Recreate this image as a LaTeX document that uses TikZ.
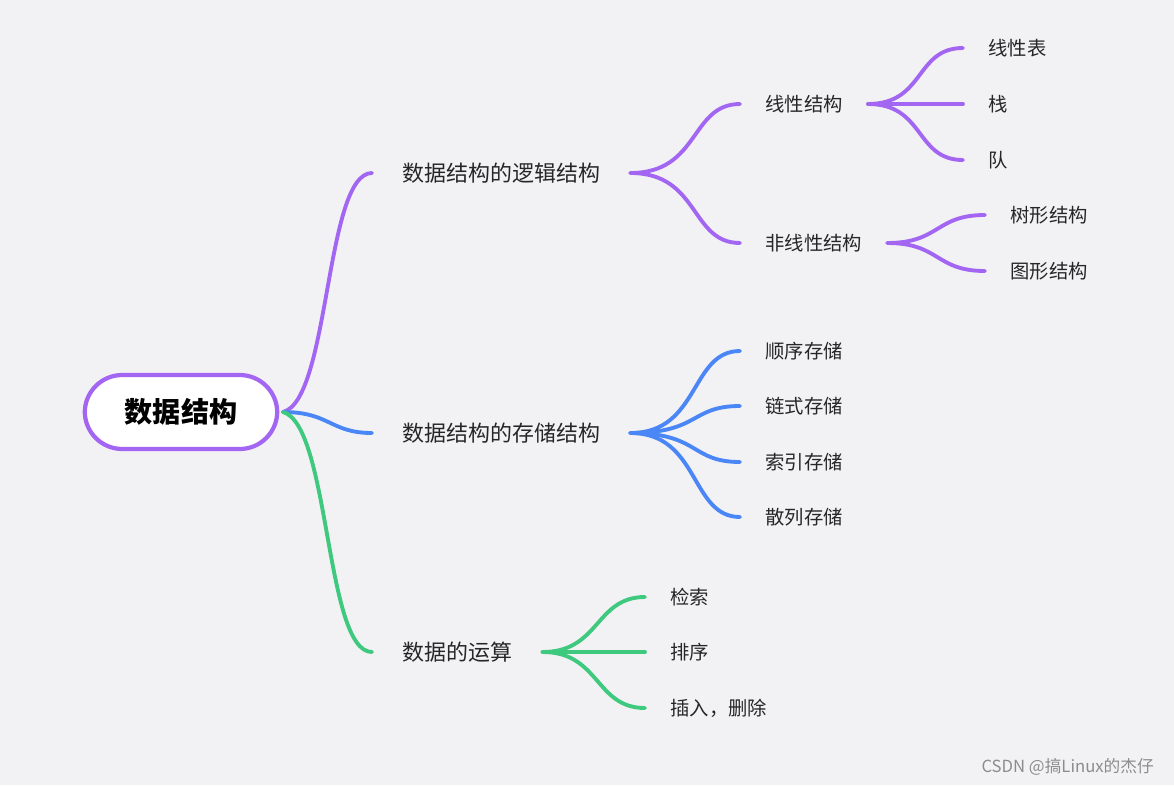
\documentclass[tikz,border=0pt]{standalone}
\usepackage{fontspec}
\setmainfont{Noto Sans CJK SC}
\begin{document}
\begin{tikzpicture}[x=0.02cm,y=-0.02cm,
  lv1/.style={anchor=west,inner xsep=0.6cm,inner ysep=0pt,font=\fontsize{12.5}{14}\selectfont,text=black!85},
  lv2/.style={anchor=west,inner xsep=0.5cm,inner ysep=0pt,font=\fontsize{11}{13}\selectfont,text=black!85},
  con/.style={line width=2.2pt,line cap=round}]
\definecolor{bg}{HTML}{F2F2F5}
\definecolor{pu}{HTML}{A366F2}
\definecolor{bl}{HTML}{4A86F5}
\definecolor{gr}{HTML}{3EC97E}
\fill[bg] (0,0) rectangle (1174,785);
\useasboundingbox (0,0) rectangle (1174,785);
\node[draw=pu,line width=2.4pt,fill=white,rounded corners=0.75cm,minimum width=3.85cm,minimum height=1.48cm,font=\fontsize{16}{18}\selectfont\bfseries] (root) at (181,412) {数据结构};
\node[lv1] (l) at (372,173) {数据结构的逻辑结构};
\node[lv1] (s) at (372,433) {数据结构的存储结构};
\node[lv1] (o) at (372,652) {数据的运算};
\coordinate (r) at (283,412);
\draw[con,pu] (r) .. controls (330,400) and (325,173) .. (l.west);
\draw[con,bl] (r) .. controls (330,412) and (330,433) .. (s.west);
\draw[con,gr] (r) .. controls (330,425) and (325,652) .. (o.west);
% logical
\node[lv2] (lin) at (740,104) {线性结构};
\node[lv2] (nl) at (740,243) {非线性结构};
\draw[con,pu] (l.east) .. controls (700,173) and (690,104) .. (lin.west);
\draw[con,pu] (l.east) .. controls (700,173) and (690,243) .. (nl.west);
\foreach \n/\t/\y in {a/线性表/48,b/栈/104,c/队/160}{
  \node[lv2] (\n) at (963,\y) {\t};
  \draw[con,pu] (lin.east) .. controls (925,104) and (915,\y) .. (\n.west);}
\foreach \n/\t/\y in {d/树形结构/215,e/图形结构/271}{
  \node[lv2] (\n) at (985,\y) {\t};
  \draw[con,pu] (nl.east) .. controls (940,243) and (935,\y) .. (\n.west);}
% storage
\foreach \n/\t/\y in {f/顺序存储/351,g/链式存储/406,h/索引存储/462,i/散列存储/517}{
  \node[lv2] (\n) at (740,\y) {\t};
  \draw[con,bl] (s.east) .. controls (700,433) and (690,\y) .. (\n.west);}
% operations
\foreach \n/\t/\y in {j/检索/597,k/排序/652,m/插入，删除/708}{
  \node[lv2] (\n) at (645,\y) {\t};
  \draw[con,gr] (o.east) .. controls (600,652) and (595,\y) .. (\n.west);}
\node[anchor=east,font=\fontsize{9.5}{11}\selectfont,text=black!45] (wm) at (1160,767) {CSDN @搞Linux的杰仔};
\end{tikzpicture}
\end{document}
